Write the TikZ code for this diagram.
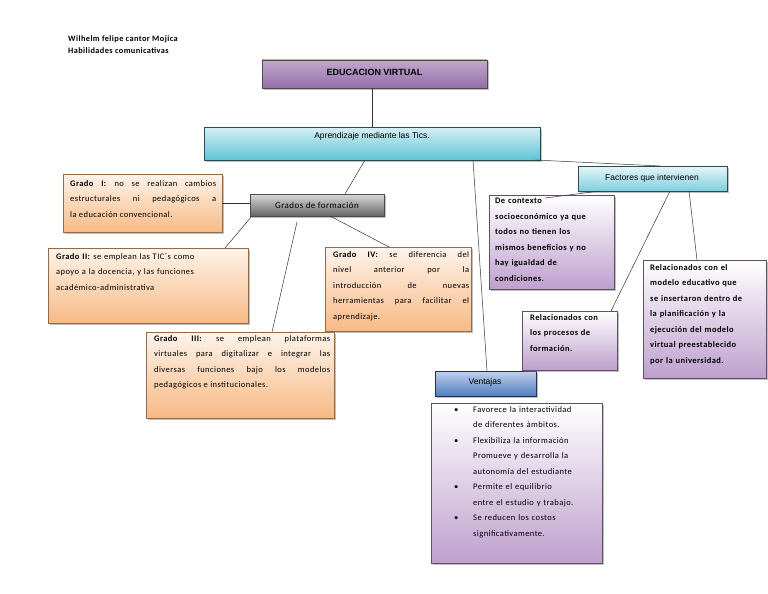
\documentclass[tikz,border=0pt]{standalone}
\usepackage{fontspec}
\setmainfont{Carlito}[LetterSpace=5]
\newfontfamily\lib{Liberation Sans}
\usetikzlibrary{shadows}
\definecolor{peach}{RGB}{247,178,120}
\definecolor{lav}{RGB}{190,160,205}
\definecolor{tit}{RGB}{150,110,170}
\definecolor{teal}{RGB}{95,195,215}
\definecolor{vblue}{RGB}{80,125,195}
\hyphenpenalty=10000
\begin{document}
\begin{tikzpicture}[x=1pt,y=-1pt,
  box/.style={draw=#1,line width=0.6pt,drop shadow={shadow xshift=1.5pt,shadow yshift=-1.5pt,opacity=0.5}},
  orange/.style={box=peach!60!black,top color=peach!15,bottom color=peach!90},
  violet/.style={box=lav!50!black,top color=white,bottom color=lav},
  txt/.style={font=\fontsize{8.5}{15.5}\selectfont,align=justify,inner sep=0pt},
  btxt/.style={txt,align=left,font=\fontsize{8.5}{15.5}\selectfont\bfseries},
  ln/.style={draw=black!80,line width=0.5pt}]
\useasboundingbox (0,0) rectangle (768,594);
\node[anchor=north west,align=left,font=\fontsize{8.3}{12}\selectfont\bfseries,inner sep=0pt] (hdr) at (68,35) {Wilhelm felipe cantor Mojica\\Habilidades comunicativas};
% main boxes
\path[box=black!70,top color=tit!60,bottom color=tit] (262,60) rectangle (487,88);
\node[font=\lib\fontsize{9}{10}\selectfont\bfseries] (title) at (374.5,72) {EDUCACION VIRTUAL};
\path[box=teal!40!black,top color=teal!25,bottom color=teal] (204,127) rectangle (540,160);
\node[font=\lib\fontsize{8.5}{10}\selectfont] (apr) at (372,136) {Aprendizaje mediante las Tics.};
\path[box=black!70,top color=gray!30,bottom color=black!60] (250,194) rectangle (384,216);
\node[font=\fontsize{9}{10}\selectfont] (gra) at (317,205) {Grados de formación};
\path[box=teal!40!black,top color=teal!15,bottom color=teal!80] (578,166) rectangle (727,191);
\node[font=\lib\fontsize{8.5}{10}\selectfont] (fac) at (652,178) {Factores que intervienen};
\path[box=vblue!40!black,top color=vblue!35,bottom color=vblue] (435,371) rectangle (536,396);
\node[font=\lib\fontsize{8.5}{10}\selectfont] (ven) at (485,382) {Ventajas};
% orange boxes
\path[orange] (63,174) rectangle (222,232);
\node[txt,text width=146pt,anchor=north west] (g1) at (70,180) {\textbf{Grado I:} no se realizan cambios\linebreak estructurales ni pedagógicos a\linebreak la educación convencional.};
\path[orange] (48,248) rectangle (248,323);
\node[txt,text width=185pt,anchor=north west,align=left] (g2) at (56,253) {\textbf{Grado II:} se emplean las TIC´s como\\apoyo a la docencia, y las funciones\\académico-administrativa};
\path[orange] (146,332) rectangle (334,418);
\node[txt,text width=176pt,anchor=north west] (g3) at (154,335) {\textbf{Grado III:} se emplean plataformas\linebreak virtuales para digitalizar e integrar las\linebreak diversas funciones bajo los modelos\linebreak pedagógicos e institucionales.};
\path[orange] (325,247) rectangle (471,331);
\node[txt,text width=136pt,anchor=north west] (g4) at (333,251) {\textbf{Grado IV:} se diferencia del\linebreak nivel anterior por la\linebreak introducción de nuevas\linebreak herramientas para facilitar el\linebreak aprendizaje.};
% violet boxes
\path[violet] (489,195) rectangle (614,289);
\node[btxt,text width=118pt,anchor=north west] (f1) at (495,198) {De contexto\\socioeconómico ya que\\todos no tienen los\\mismos beneficios y no\\hay igualdad de\\condiciones.};
\path[violet] (522,311) rectangle (617,370);
\node[btxt,text width=90pt,anchor=north west] (f2) at (530,314) {Relacionados con\\los procesos de\\formación.};
\path[violet] (643,260) rectangle (766,378);
\node[btxt,text width=120pt,anchor=north west] (f3) at (650,264) {Relacionados con el\\modelo educativo que\\se insertaron dentro de\\la planificación y la\\ejecución del modelo\\virtual preestablecido\\por la universidad.};
\path[violet] (431,403) rectangle (602,563);
\node[txt,text width=150pt,anchor=north west,align=left] (vl) at (454,406) {%
\makebox[19pt][l]{\textbullet}Favorece la interactividad\\\hspace*{19pt}de diferentes ámbitos.\\
\makebox[19pt][l]{\textbullet}Flexibiliza la información\\\hspace*{19pt}Promueve y desarrolla la\\\hspace*{19pt}autonomía del estudiante\\
\makebox[19pt][l]{\textbullet}Permite el equilibrio\\\hspace*{19pt}entre el estudio y trabajo.\\
\makebox[19pt][l]{\textbullet}Se reducen los costos\\\hspace*{19pt}significativamente.};
% connectors
\coordinate (t1) at (372,88); \coordinate (t2) at (372,127);
\draw[ln] (t1) -- (t2);
\coordinate (a1) at (365,160); \coordinate (a2) at (345,194);
\draw[ln] (a1) -- (a2);
\coordinate (a3) at (473,160); \coordinate (a4) at (487,371);
\draw[ln] (a3) -- (a4);
\coordinate (a5) at (535,160); \coordinate (a6) at (660,166);
\draw[ln] (a5) -- (a6);
\coordinate (b1) at (222,203); \coordinate (b2) at (250,203);
\draw[ln] (b1) -- (b2);
\coordinate (b3) at (252,216); \coordinate (b4) at (225,248);
\draw[ln] (b3) -- (b4);
\coordinate (b5) at (297,222); \coordinate (b6) at (272,332);
\draw[ln] (b5) -- (b6);
\coordinate (b7) at (330,216); \coordinate (b8) at (389,247);
\draw[ln] (b7) -- (b8);
\coordinate (c1) at (600,191); \coordinate (c2) at (545,198);
\draw[ln] (c1) -- (c2);
\coordinate (c3) at (670,191); \coordinate (c4) at (611,311);
\draw[ln] (c3) -- (c4);
\coordinate (c5) at (689,191); \coordinate (c6) at (697,260);
\draw[ln] (c5) -- (c6);
\end{tikzpicture}
\end{document}
